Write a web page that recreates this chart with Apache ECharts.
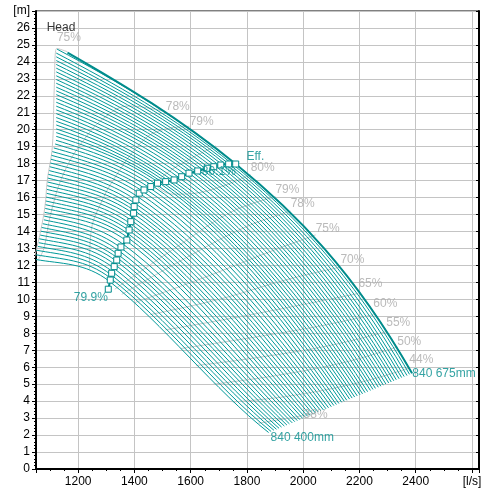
<!DOCTYPE html>
<html><head><meta charset="utf-8">
<script src="https://cdn.jsdelivr.net/npm/echarts@6/dist/echarts.min.js"></script>
<style>html,body{margin:0;padding:0;background:#fff}#c{width:500px;height:500px}</style>
</head><body><div id="c"></div>
<script>
// impeller diameters (mm): one H-Q curve each
const diameters = [400,405,410,415,420,425,430,435,440,445,450,455,460,465,470,475,480,485,490,495,500,505,510,515,520,525,530,535,540,545,550,555,560,565,570,575,580,585,590,595,600,605,610,615,620,625,630,635,640,645,650,655,660,665,670,675];
// curve start (left end): flow [l/s], head [m], slope [m per 1000 l/s]
const startQ = [1050,1050,1051,1057,1060,1062,1065,1067,1070,1074,1078,1079,1081,1083,1084,1085,1086,1088,1089,1090,1091,1092,1094,1097,1099,1101,1103,1105,1108,1113,1118,1121,1122,1122,1122,1122,1122,1122,1122,1122,1122,1122,1122,1122,1122,1122,1122,1122,1122,1122,1122,1122,1122,1122,1122,1125];
const startH = [12.35,12.63,12.90,13.12,13.34,13.57,13.79,14.02,14.24,14.46,14.69,14.91,15.13,15.36,15.58,15.80,16.03,16.25,16.48,16.70,16.92,17.15,17.37,17.59,17.82,18.04,18.26,18.49,18.71,18.93,19.16,19.38,19.61,19.83,20.05,20.28,20.50,20.72,20.95,21.17,21.39,21.62,21.84,22.07,22.29,22.51,22.74,22.96,23.18,23.41,23.63,23.85,24.08,24.30,24.52,24.75];
const startSlope = [-3.00,-3.05,-3.11,-3.16,-3.22,-3.27,-3.33,-3.38,-3.44,-3.49,-3.55,-3.60,-3.65,-3.71,-3.76,-3.82,-3.87,-3.93,-3.98,-4.04,-4.09,-4.15,-4.20,-4.25,-4.31,-4.36,-4.42,-4.47,-4.58,-4.73,-4.89,-5.05,-5.20,-5.36,-5.52,-5.67,-5.83,-5.99,-6.14,-6.30,-6.45,-6.61,-6.77,-6.92,-7.08,-7.24,-7.39,-7.55,-7.71,-7.86,-8.02,-8.17,-8.33,-8.49,-8.64,-8.80];
// best-efficiency point of each curve
const bepQ = [1312,1315,1317,1321,1326,1331,1336,1339,1341,1346,1351,1360,1371,1375,1378,1381,1383,1386,1389,1392,1396,1398,1399,1402,1405,1411,1417,1428,1440,1452,1464,1476,1488,1499,1511,1523,1535,1547,1559,1571,1582,1594,1606,1618,1630,1642,1653,1665,1677,1689,1701,1713,1725,1736,1748,1760];
const bepH = [11.05,11.25,11.45,11.65,11.85,12.05,12.25,12.45,12.65,12.85,13.05,13.25,13.46,13.66,13.86,14.06,14.26,14.46,14.66,14.86,15.06,15.26,15.46,15.66,15.86,16.06,16.26,16.39,16.50,16.60,16.70,16.80,16.87,16.90,16.94,16.98,17.02,17.08,17.17,17.25,17.35,17.44,17.49,17.54,17.59,17.65,17.70,17.75,17.80,17.85,17.90,17.93,17.96,17.98,17.98,17.98];
const bepSlope = [-13.00,-12.93,-12.85,-12.78,-12.71,-12.64,-12.56,-12.49,-12.42,-12.35,-12.27,-12.20,-12.13,-12.05,-11.98,-11.91,-11.84,-11.76,-11.69,-11.62,-11.55,-11.47,-11.40,-11.33,-11.25,-11.18,-11.11,-11.04,-11.05,-11.14,-11.23,-11.32,-11.41,-11.50,-11.59,-11.68,-11.77,-11.86,-11.95,-12.05,-12.14,-12.23,-12.32,-12.41,-12.50,-12.59,-12.68,-12.77,-12.86,-12.95,-13.05,-13.14,-13.23,-13.32,-13.41,-13.50];
// curve end (right end)
const endQ = [1877,1886,1896,1905,1914,1923,1933,1942,1951,1961,1970,1979,1988,1998,2007,2016,2025,2035,2044,2053,2063,2072,2081,2090,2100,2109,2118,2127,2137,2146,2155,2165,2174,2183,2192,2202,2211,2220,2229,2239,2248,2257,2267,2276,2285,2294,2304,2313,2322,2331,2341,2350,2359,2369,2378,2387];
const endH = [2.15,2.21,2.28,2.34,2.40,2.47,2.53,2.59,2.66,2.72,2.79,2.85,2.91,2.98,3.04,3.10,3.17,3.23,3.29,3.36,3.42,3.48,3.55,3.61,3.67,3.74,3.80,3.86,3.93,3.99,4.05,4.12,4.18,4.24,4.31,4.37,4.43,4.50,4.56,4.63,4.69,4.75,4.82,4.88,4.94,5.01,5.07,5.13,5.20,5.26,5.32,5.39,5.45,5.51,5.58,5.64];
const endSlope = [-13.00,-13.40,-13.80,-14.20,-14.60,-15.00,-15.40,-15.80,-16.20,-16.60,-17.00,-17.40,-17.80,-18.20,-18.60,-19.00,-19.40,-19.80,-20.20,-20.60,-21.00,-21.40,-21.80,-22.20,-22.60,-23.00,-23.40,-23.80,-24.09,-24.27,-24.45,-24.64,-24.82,-25.00,-25.18,-25.36,-25.55,-25.73,-25.91,-26.09,-26.27,-26.45,-26.64,-26.82,-27.00,-27.18,-27.36,-27.55,-27.73,-27.91,-28.09,-28.27,-28.45,-28.64,-28.82,-29.00];
// bold 675 mm curve: start, BEP, end (flow, head, slope)
const boldQ = [1162,1760,2387];
const boldH = [24.55,17.98,5.64];
const boldSlope = [-9.5,-13.5,-29.0];
// best-efficiency line (Eff.)
const effQ = [1307,1314,1319,1328,1337,1342,1352,1373,1381,1387,1397,1399,1405,1417,1434,1458,1482,1511,1541,1568,1594,1625,1659,1682,1707,1735,1760];
const effH = [10.60,11.14,11.54,11.93,12.32,12.72,13.09,13.50,14.09,14.58,15.08,15.47,15.86,16.26,16.45,16.65,16.85,16.94,17.04,17.23,17.44,17.57,17.73,17.82,17.92,17.98,17.98];
// iso-efficiency lines
const isoQ = [
[1162,1124,1115,1108,1090,1082,1066,1045],
[1511,1380,1300,1220,1149,1103,1078,1060],
[1596,1500,1433,1341,1281,1245,1240],
[1690,1600,1520,1480,1540,1660,1813],
[1330,1560,1750,1902],
[1355,1600,1800,1955],
[1400,1650,1880,2044],
[1455,1700,1950,2133],
[1510,1750,2000,2196],
[1565,1800,2050,2250],
[1620,1850,2100,2296],
[1680,1900,2150,2335],
[1750,1950,2200,2377],
[1840,1950,2044]
];
const isoH = [
[24.6,24.8,22.5,19.0,17.0,15.5,14.0,12.5],
[21.07,21.4,20.8,19.4,17.45,15.09,13.0,12.4],
[20.2,20.0,19.4,17.45,15.68,13.9,11.8],
[19.05,18.3,17.5,16.8,16.2,16.4,17.35],
[10.6,13.2,15.2,16.05],
[10.3,12.6,14.3,15.2],
[9.8,11.3,12.8,13.8],
[9.1,10.0,11.2,11.9],
[8.2,8.9,9.7,10.35],
[7.1,7.7,8.4,9.1],
[6.1,6.6,7.3,8.1],
[5.0,5.5,6.3,7.2],
[3.95,4.3,5.1,5.95],
[2.7,3.0,3.3]
];
// efficiency labels (grey)
const pctText = ['75%','78%','79%','80%','79%','78%','75%','70%','65%','60%','55%','50%','44%','38%'];
const pctQ = [1167,1554,1639,1856,1944,1998,2087,2175,2239,2292,2338,2377,2420,2044];
const pctH = [25.41,21.34,20.46,17.75,16.45,15.62,14.15,12.32,10.91,9.73,8.61,7.49,6.43,3.18];
// teal annotations
const tealText = ['Eff.','80.1%','79.9%'];
const tealQ = [1830,1700,1245];
const tealH = [18.4,17.51,10.08];
const curveNameText = ['840 675mm','840 400mm'];
const curveNameQ = [2388,1884];
const curveNameH = [5.6,1.83];
const headTitle = 'Head';
const headQ = 1139, headH = 26.0;
// axis tick labels
const xTickValues = [1200,1400,1600,1800,2000,2200,2400,2600];
const xTickLabels = ['1200','1400','1600','1800','2000','2200','2400','[l/s]'];
const yTickLabels = ['0','1','2','3','4','5','6','7','8','9','10','11','12','13','14','15','16','17','18','19','20','21','22','23','24','25','26','[m]'];

const teal = '#009999';
const tealDark = '#008c8c';
const FONT = 'Liberation Sans, Arial, sans-serif';

// cubic Hermite segment through two read points with read slopes, mapped through the axes
function hermiteSeg(api, qa, ha, sa, qb, hb, sb, color, width) {
  const L = (qb - qa) / 3;
  const p0 = api.coord([qa, ha]);
  const c1 = api.coord([qa + L, ha + sa / 1000 * L]);
  const c2 = api.coord([qb - L, hb - sb / 1000 * L]);
  const p1 = api.coord([qb, hb]);
  return {type:'bezierCurve', shape:{x1:p0[0], y1:p0[1], cpx1:c1[0], cpy1:c1[1], cpx2:c2[0], cpy2:c2[1], x2:p1[0], y2:p1[1]},
    style:{stroke:color, fill:null, lineWidth:width}};
}

const series = [];
isoQ.forEach((qs, i) => {
  series.push({type:'line', data: qs.map((q,j)=>[q, isoH[i][j]]), smooth:0.4, symbol:'none', silent:true,
    lineStyle:{color:'#c8c8c8', width:1}, z:1});
});
series.push({type:'custom', coordinateSystem:'cartesian2d', silent:true, z:3,
  data: startQ.map((q,i)=>[q, startH[i]]),
  renderItem:(params, api) => {
    const i = params.dataIndex;
    return {type:'group', children:[
      hermiteSeg(api, startQ[i], startH[i], startSlope[i], bepQ[i], bepH[i], bepSlope[i], teal, 1),
      hermiteSeg(api, bepQ[i], bepH[i], bepSlope[i], endQ[i], endH[i], endSlope[i], teal, 1)
    ]};
  }});
series.push({type:'custom', coordinateSystem:'cartesian2d', silent:true, z:4,
  data: [[boldQ[0], boldH[0]]],
  renderItem:(params, api) => ({type:'group', children:[
      hermiteSeg(api, boldQ[0], boldH[0], boldSlope[0], boldQ[1], boldH[1], boldSlope[1], tealDark, 2),
      hermiteSeg(api, boldQ[1], boldH[1], boldSlope[1], boldQ[2], boldH[2], boldSlope[2], tealDark, 2)
    ]})});
series.push({type:'line', data: effQ.map((q,j)=>[q, effH[j]]), symbol:'rect', symbolSize:6, showAllSymbol:true, silent:true,
  lineStyle:{color:tealDark, width:2}, itemStyle:{color:'#ffffff', borderColor:tealDark, borderWidth:1}, z:5});
series.push({type:'scatter', symbolSize:0, silent:true, z:6,
  data: pctQ.map((q,i)=>({value:[q,pctH[i]], name:pctText[i]})),
  label:{show:true, position:'inside', formatter:p=>p.name, color:'#a9a9a9', fontSize:12, fontFamily:FONT}});
series.push({type:'scatter', symbolSize:0, silent:true, z:7,
  data: tealQ.map((q,i)=>({value:[q,tealH[i]], name:tealText[i]})),
  label:{show:true, position:'inside', formatter:p=>p.name, color:tealDark, fontSize:12, fontFamily:FONT}});
series.push({type:'scatter', symbolSize:0, silent:true, z:7,
  data: curveNameQ.map((q,i)=>({value:[q,curveNameH[i]], name:curveNameText[i]})),
  label:{show:true, position:'right', distance:0, formatter:p=>p.name, color:tealDark, fontSize:12, fontFamily:FONT}});
series.push({type:'scatter', symbolSize:0, silent:true, z:7,
  data: [{value:[headQ, headH], name:headTitle}],
  label:{show:true, position:'inside', formatter:p=>p.name, color:'#000', fontSize:12, fontFamily:FONT}});

const chart = echarts.init(document.getElementById('c'), null, {renderer:'canvas'});
chart.setOption({
  animation:false,
  backgroundColor:'#fff',
  grid:{left:36, right:21, top:11, bottom:31, show:true, borderColor:'#000', borderWidth:1},
  xAxis:{type:'value', min:1050, max:2625, splitNumber:8, minInterval:200, maxInterval:200,
    axisLine:{show:true, onZero:false, lineStyle:{color:'#000', width:2}},
    axisTick:{show:true, length:4, lineStyle:{color:'#000'}},
    minorTick:{show:true, splitNumber:4, length:2, lineStyle:{color:'#000'}},
    splitLine:{show:true, lineStyle:{color:'#c4c4c4', width:1}},
    axisLabel:{color:'#000', fontSize:12, fontFamily:FONT, margin:7, showMinLabel:true, showMaxLabel:true,
      formatter:v=>{const k=xTickValues.indexOf(v); return k>=0?xTickLabels[k]:'';}}},
  yAxis:[{type:'value', min:0, max:27, interval:1,
    axisLine:{show:true, onZero:false, lineStyle:{color:'#000', width:2}},
    axisTick:{show:true, length:4, lineStyle:{color:'#000'}},
    minorTick:{show:true, splitNumber:5, length:2, lineStyle:{color:'#000'}},
    splitLine:{show:true, lineStyle:{color:'#c4c4c4', width:1}},
    axisLabel:{color:'#000', fontSize:12, fontFamily:FONT, margin:6, formatter:v=>yTickLabels[Math.round(v)]}},
   {type:'value', position:'right', min:0, max:27, interval:1,
    axisLine:{show:true, onZero:false, lineStyle:{color:'#000', width:2}},
    axisTick:{show:true, inside:true, length:3, lineStyle:{color:'#000'}},
    axisLabel:{show:false}, splitLine:{show:false}}],
  series: series
});
</script>
</body></html>
